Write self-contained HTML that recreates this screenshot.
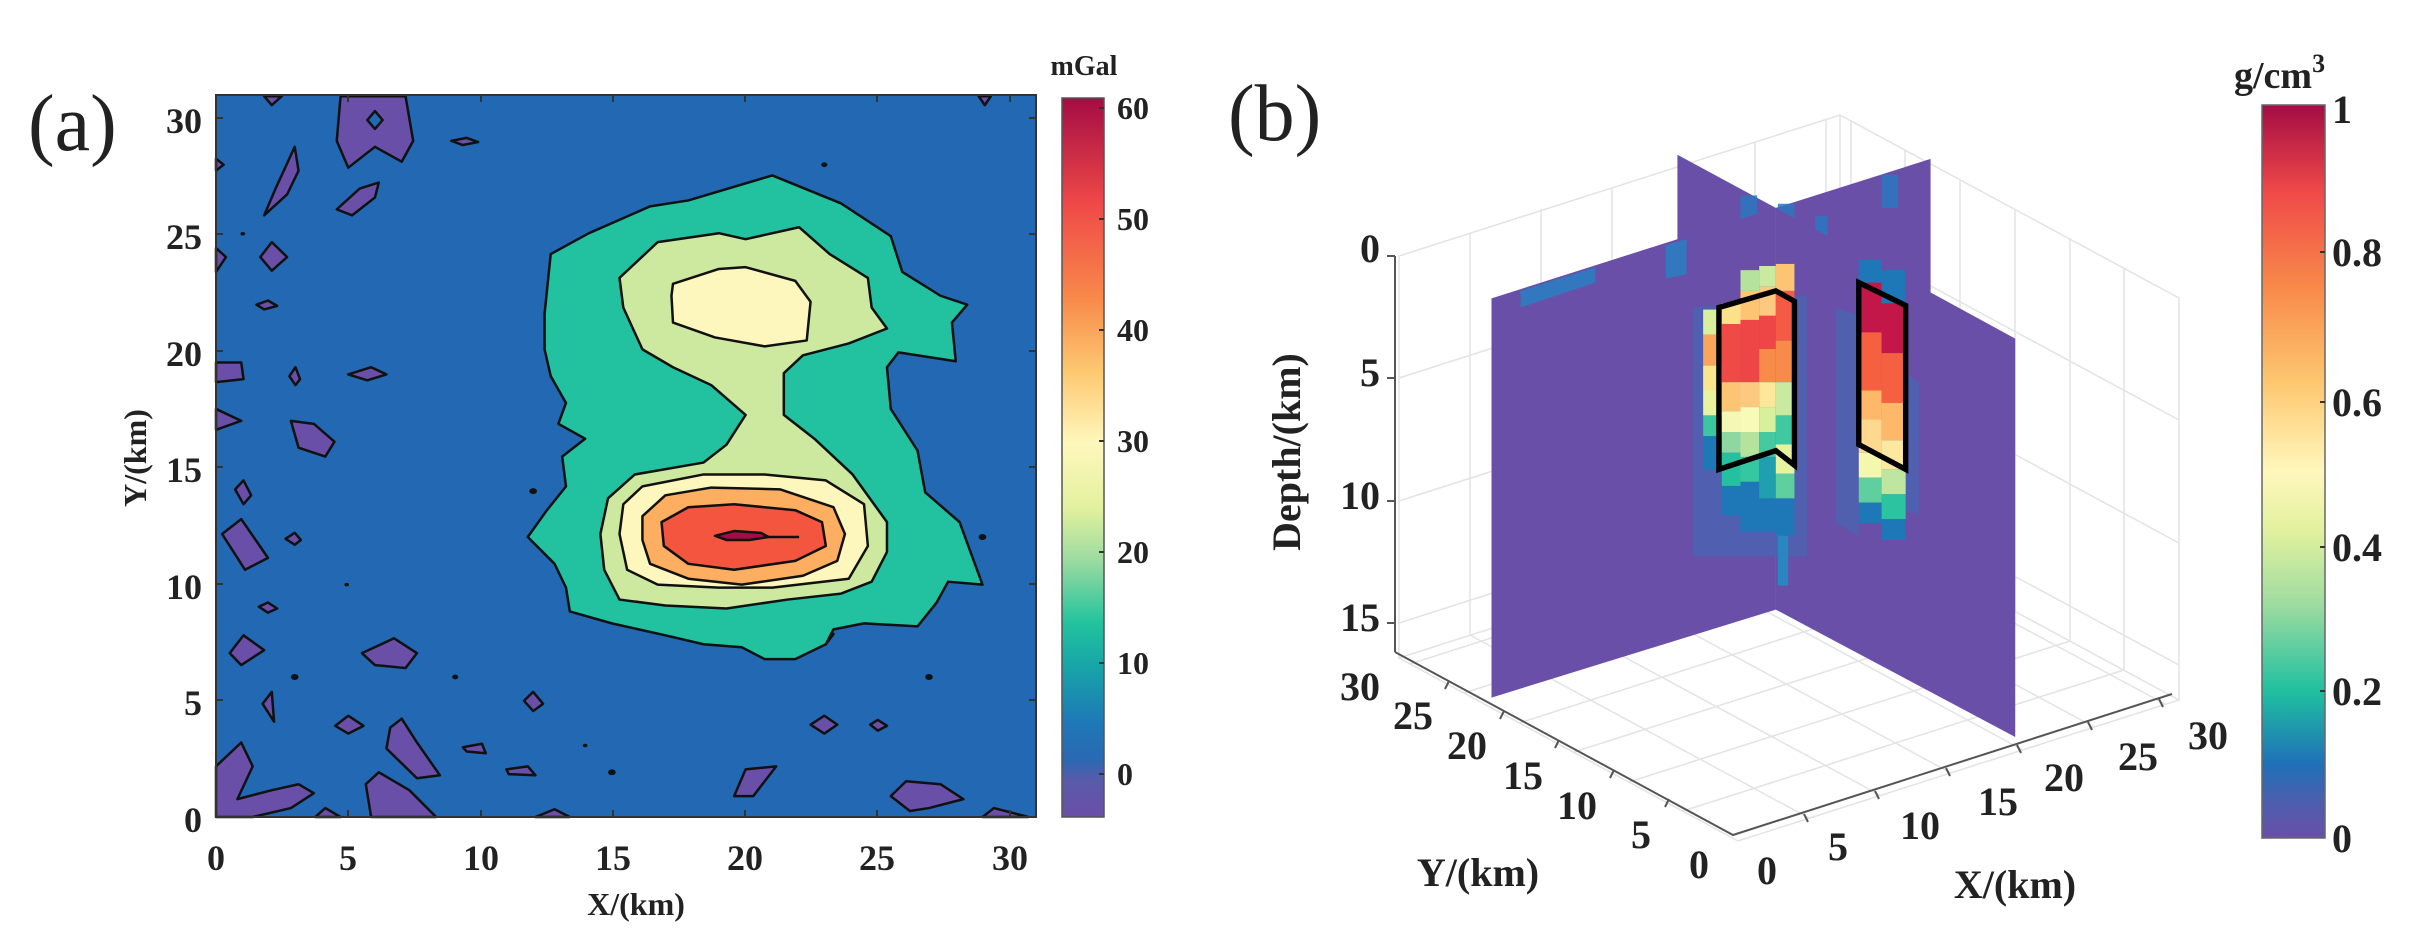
<!DOCTYPE html>
<html><head><meta charset="utf-8"><style>
html,body{margin:0;padding:0;background:#fff;}
svg{display:block;}
text{font-family:"Liberation Serif",serif;fill:#222;}
.tk{font-weight:bold;font-size:36px;}
.tb{font-weight:bold;font-size:40px;}
</style></head><body>
<svg width="2409" height="931" viewBox="0 0 2409 931" xmlns="http://www.w3.org/2000/svg">
<defs>
<linearGradient id="cba" x1="0" y1="1" x2="0" y2="0">
<stop offset="0" stop-color="#6a4fa8"/><stop offset="0.05" stop-color="#5a5aaa"/>
<stop offset="0.08" stop-color="#2a69b3"/><stop offset="0.13" stop-color="#1e78b8"/>
<stop offset="0.21" stop-color="#17a5a8"/><stop offset="0.27" stop-color="#22c39e"/>
<stop offset="0.36" stop-color="#9fdca0"/><stop offset="0.43" stop-color="#e2f19e"/>
<stop offset="0.52" stop-color="#fff7bc"/><stop offset="0.62" stop-color="#fdc870"/>
<stop offset="0.72" stop-color="#f88a4a"/><stop offset="0.85" stop-color="#f04a48"/>
<stop offset="1" stop-color="#a40c44"/></linearGradient>
<linearGradient id="cbb" x1="0" y1="1" x2="0" y2="0">
<stop offset="0" stop-color="#6a4fa8"/><stop offset="0.05" stop-color="#4c5fae"/>
<stop offset="0.1" stop-color="#1f70b8"/><stop offset="0.2" stop-color="#1fc0a0"/>
<stop offset="0.32" stop-color="#9fdca0"/><stop offset="0.42" stop-color="#e2f19e"/>
<stop offset="0.5" stop-color="#fff7bc"/><stop offset="0.62" stop-color="#fdc870"/>
<stop offset="0.75" stop-color="#f88a4a"/><stop offset="0.88" stop-color="#f04a48"/>
<stop offset="1" stop-color="#a40c44"/></linearGradient>
</defs>

<!-- ===== Panel (a) ===== -->
<text x="28" y="150" style="font-size:80px">(a)</text>
<rect x="216" y="95" width="820" height="722" fill="#2268b2"/>
<g transform="translate(0.5,-2.1) scale(0.7642,0.5957)" stroke="#111" stroke-width="2.5" stroke-linejoin="round">
<g fill="#6a4fa8" stroke="#111">
<path vector-effect="non-scaling-stroke" d="M445,165 L530,165 540,240 525,275 490,250 455,285 440,240Z"/>
<path vector-effect="non-scaling-stroke" fill="#2268b2" d="M480,205 490,190 500,205 490,220Z"/>
<path vector-effect="non-scaling-stroke" d="M345,365 360,320 385,250 390,290 375,330Z"/>
<path vector-effect="non-scaling-stroke" d="M440,355 470,320 495,310 490,335 460,365Z"/>
<path vector-effect="non-scaling-stroke" d="M340,435 355,410 375,435 355,458Z"/>
<path vector-effect="non-scaling-stroke" d="M335,515 350,508 362,517 345,523Z"/>
<path vector-effect="non-scaling-stroke" d="M282,612 315,612 318,640 282,645Z"/>
<path vector-effect="non-scaling-stroke" d="M455,632 485,620 505,632 480,642Z"/>
<path vector-effect="non-scaling-stroke" d="M378,635 386,620 392,640 386,650Z"/>
<path vector-effect="non-scaling-stroke" d="M282,690 315,710 282,725Z"/>
<path vector-effect="non-scaling-stroke" d="M380,710 410,715 437,745 425,770 390,755Z"/>
<path vector-effect="non-scaling-stroke" d="M307,825 318,810 328,835 318,850Z"/>
<path vector-effect="non-scaling-stroke" d="M290,900 315,875 350,940 320,960Z"/>
<path vector-effect="non-scaling-stroke" d="M373,908 385,898 393,910 385,918Z"/>
<path vector-effect="non-scaling-stroke" d="M338,1022 350,1015 362,1025 350,1032Z"/>
<path vector-effect="non-scaling-stroke" d="M300,1100 318,1070 345,1095 315,1120Z"/>
<path vector-effect="non-scaling-stroke" d="M473,1100 515,1075 545,1100 530,1125 490,1120Z"/>
<path vector-effect="non-scaling-stroke" d="M685,1180 697,1165 710,1185 697,1197Z"/>
<path vector-effect="non-scaling-stroke" d="M343,1185 355,1165 358,1215Z"/>
<path vector-effect="non-scaling-stroke" d="M438,1222 455,1205 475,1222 455,1235Z"/>
<path vector-effect="non-scaling-stroke" d="M510,1225 525,1210 545,1250 575,1305 545,1310 505,1260Z"/>
<path vector-effect="non-scaling-stroke" d="M605,1258 630,1252 635,1268 610,1265Z"/>
<path vector-effect="non-scaling-stroke" d="M662,1295 690,1290 700,1305 665,1303Z"/>
<path vector-effect="non-scaling-stroke" d="M1060,1220 1078,1205 1095,1220 1078,1235Z"/>
<path vector-effect="non-scaling-stroke" d="M1138,1220 1148,1212 1160,1222 1148,1230Z"/>
<path vector-effect="non-scaling-stroke" d="M282,1290 315,1250 330,1290 310,1345 355,1330 390,1320 410,1335 380,1360 330,1375 282,1375Z"/>
<path vector-effect="non-scaling-stroke" d="M478,1320 495,1300 535,1330 570,1375 485,1375Z"/>
<path vector-effect="non-scaling-stroke" d="M412,1375 425,1360 445,1375Z"/>
<path vector-effect="non-scaling-stroke" d="M960,1340 975,1295 1015,1290 985,1340Z"/>
<path vector-effect="non-scaling-stroke" d="M1165,1340 1185,1315 1230,1320 1260,1345 1215,1360 1190,1365Z"/>
<path vector-effect="non-scaling-stroke" d="M1285,1375 1300,1360 1345,1375Z"/>
<path vector-effect="non-scaling-stroke" d="M282,270 292,280 282,290Z"/>
<path vector-effect="non-scaling-stroke" d="M282,420 295,435 282,460Z"/>
<path vector-effect="non-scaling-stroke" d="M1070,1068 1080,1055 1090,1068 1080,1085Z"/>
<path vector-effect="non-scaling-stroke" d="M700,1375 725,1362 745,1375Z"/>
<path vector-effect="non-scaling-stroke" d="M345,165 368,165 355,180Z"/>
<path vector-effect="non-scaling-stroke" d="M1280,165 1296,165 1288,180Z"/>
<path vector-effect="non-scaling-stroke" d="M590,240 610,235 625,242 605,247Z"/>
</g>
<path vector-effect="non-scaling-stroke" fill="#22c1a0" d="M1010,298 1100,345 1165,400 1180,460 1230,500 1265,515 1245,545 1250,610 1175,595 1160,620 1165,690 1200,760 1210,830 1255,880 1285,985 1240,980 1225,1015 1200,1055 1130,1050 1090,1060 1080,1085 1040,1110 1000,1110 970,1090 920,1085 870,1070 800,1050 745,1030 740,990 725,950 690,905 715,860 740,820 735,770 765,740 730,715 740,680 720,635 712,590 712,530 720,430 770,395 850,350 900,340Z"/>
<path vector-effect="non-scaling-stroke" fill="#cde9a0" d="M810,470 860,410 940,395 975,405 1045,385 1085,430 1135,470 1140,520 1160,555 1110,580 1050,600 1025,630 1025,700 1065,740 1115,800 1160,880 1160,930 1140,980 1100,1000 1030,1010 950,1025 870,1020 810,1010 790,960 785,900 795,840 830,800 920,780 950,750 975,700 930,650 880,620 840,590 815,520Z"/>
<path vector-effect="non-scaling-stroke" fill="#fdf6bd" d="M880,480 940,455 975,452 1040,475 1060,510 1055,575 1000,585 935,570 880,545 878,500Z"/>
<path vector-effect="non-scaling-stroke" fill="#fdf6bd" d="M815,850 840,820 920,800 1000,800 1080,810 1130,850 1135,920 1110,975 1010,990 940,990 860,985 820,960 810,900Z"/>
<path vector-effect="non-scaling-stroke" fill="#fdae61" d="M840,870 870,835 930,822 1020,825 1090,855 1105,900 1095,945 1050,970 970,985 900,975 850,950 840,910Z"/>
<path vector-effect="non-scaling-stroke" fill="#f4553f" d="M865,880 900,855 960,850 1040,860 1075,880 1080,920 1040,945 960,960 900,950 868,920Z"/>
<path vector-effect="non-scaling-stroke" fill="#a40c44" d="M935,903 960,895 995,898 1005,905 980,910 950,910Z"/>
<path vector-effect="non-scaling-stroke" fill="none" d="M1005,905 L1045,905"/>
<g fill="#111" stroke="none">
<circle cx="697" cy="828" r="5"/><circle cx="1285" cy="905" r="5"/><circle cx="1215" cy="1140" r="5"/>
<circle cx="385" cy="1140" r="5"/><circle cx="595" cy="1140" r="4"/><circle cx="800" cy="1300" r="5"/>
<circle cx="453" cy="985" r="3"/><circle cx="1078" cy="280" r="4"/><circle cx="317" cy="396" r="3"/><circle cx="765" cy="1255" r="3"/>
</g>
</g>
<rect x="216" y="95" width="820" height="722" fill="none" stroke="#333" stroke-width="2"/>
<g stroke="#333" stroke-width="2">
<path d="M348,817v-7M481,817v-7M613,817v-7M745,817v-7M877,817v-7M1010,817v-7M348,95v7M481,95v7M613,95v7M745,95v7M877,95v7M1010,95v7"/>
<path d="M216,700h7M216,584h7M216,467h7M216,351h7M216,234h7M216,118h7M1036,700h-7M1036,584h-7M1036,467h-7M1036,351h-7M1036,234h-7M1036,118h-7"/>
</g>
<g class="tk" text-anchor="middle">
<text x="216" y="870">0</text><text x="348" y="870">5</text><text x="481" y="870">10</text>
<text x="613" y="870">15</text><text x="745" y="870">20</text><text x="877" y="870">25</text><text x="1010" y="870">30</text>
</g>
<g class="tk" text-anchor="end">
<text x="202" y="832">0</text><text x="202" y="715">5</text><text x="202" y="599">10</text>
<text x="202" y="482">15</text><text x="202" y="366">20</text><text x="202" y="249">25</text><text x="202" y="133">30</text>
</g>
<text x="636" y="915" text-anchor="middle" style="font-weight:bold;font-size:32px">X/(km)</text>
<text transform="translate(146,458) rotate(-90)" text-anchor="middle" style="font-weight:bold;font-size:32px">Y/(km)</text>
<rect x="1062" y="98" width="42" height="719" fill="url(#cba)" stroke="#555" stroke-width="1.5"/>
<g stroke="#333" stroke-width="2"><path d="M1104,108h-5M1104,219h-5M1104,330h-5M1104,441h-5M1104,552h-5M1104,663h-5M1104,774h-5"/></g>
<g style="font-weight:bold;font-size:32px">
<text x="1117" y="119">60</text><text x="1117" y="230">50</text><text x="1117" y="341">40</text><text x="1117" y="452">30</text>
<text x="1117" y="563">20</text><text x="1117" y="674">10</text><text x="1117" y="785">0</text>
</g>
<text x="1084" y="75" text-anchor="middle" style="font-weight:bold;font-size:28px">mGal</text>

<!-- ===== Panel (b) ===== -->
<text x="1228" y="140" style="font-size:80px">(b)</text>
<g stroke="#e3e3e3" stroke-width="1.5" fill="none">
<path d="M1399,256L1840,115L2179,298L2179,700L1738,841L1399,658Z M1840,115V517 M1399,658L1840,517L2179,700"/>
<path d="M1470,233V635M1541,209V612M1612,188V590M1684,165V567M1755,142V544M1826,119V522"/>
<path d="M1399,378L1840,237M1399,501L1840,360M1399,623L1840,482"/>
<path d="M2124,268V670M2070,239V641M2015,209V611M1960,180V582M1905,150V552M1851,121V523"/>
<path d="M1840,237L2179,420M1840,360L2179,543M1840,482L2179,665"/>
<path d="M1809,818L1470,635M1880,795L1541,612M1951,773L1612,590M2023,750L1684,567M2094,727L1755,544M2165,704L1826,522"/>
<path d="M1683,811L2124,670M1629,782L2070,641M1574,752L2015,611M1519,723L1960,582M1464,693L1905,552M1410,664L1851,523"/>
</g>
<g stroke="#555" stroke-width="2" fill="none">
<path d="M1395,256V652 M1395,256h-8M1395,378h-8M1395,501h-8M1395,623h-8"/>
<path d="M1395,652L1733,835L2172,694"/>
<path d="M1449,681l-4,8M1504,711l-4,8M1559,740l-4,8M1614,770l-4,8M1669,799l-4,8"/>
<path d="M1804,814l4,8M1875,791l4,8M1946,768l4,8M2017,745l4,8M2088,722l4,8M2159,699l4,8"/>
</g>
<g transform="translate(1450,100) scale(0.415)">
<path d="M548,132 785,260 785,1228 548,1100Z" fill="#6a4fa8"/>
<path d="M785,260 1158,142 1158,1100 785,1228Z" fill="#6a4fa8"/>
<g fill="#2a78c0" opacity="0.85">
<rect x="700" y="230" width="40" height="70"/><rect x="790" y="250" width="40" height="80"/>
<rect x="1040" y="180" width="40" height="80"/><rect x="880" y="280" width="30" height="100"/>
</g>
<path d="M100,478 785,260 785,1228 100,1440Z" fill="#6a4fa8"/>
<path d="M785,260 1362,575 1362,1535 785,1228Z" fill="#6a4fa8"/>
<g fill="#2c7cc0" opacity="0.9">
<path d="M170,460 350,403 350,440 170,500Z"/>
<path d="M520,350 570,335 570,420 520,430Z"/>
</g>
<g fill="#4a63b0" opacity="0.8">
<path d="M585,500 860,470 860,1100 585,1100Z"/>
<path d="M930,500 985,520 985,1050 930,1020Z"/>
<path d="M1098,660 1130,680 1130,1000 1098,990Z"/>
</g>
<g>
<rect x="610" y="505" width="45" height="60" fill="#d8ef9c"/><rect x="610" y="565" width="45" height="75" fill="#fba55c"/>
<rect x="610" y="640" width="45" height="60" fill="#f8e58e"/><rect x="610" y="700" width="45" height="60" fill="#e8f3a0"/>
<rect x="610" y="760" width="45" height="50" fill="#39c6a0"/><rect x="610" y="810" width="45" height="80" fill="#1e78b8"/>
<rect x="655" y="490" width="45" height="50" fill="#fde08a"/><rect x="655" y="540" width="45" height="140" fill="#ef4a45"/>
<rect x="655" y="680" width="45" height="70" fill="#fdc474"/><rect x="655" y="750" width="45" height="50" fill="#f5f7b5"/>
<rect x="655" y="800" width="45" height="50" fill="#8ed7a0"/><rect x="655" y="850" width="45" height="80" fill="#25c0a0"/>
<rect x="655" y="930" width="45" height="70" fill="#1e78b8"/>
<rect x="700" y="410" width="45" height="50" fill="#b5e39e"/><rect x="700" y="460" width="45" height="70" fill="#fdc474"/>
<rect x="700" y="530" width="45" height="150" fill="#ee4646"/><rect x="700" y="680" width="45" height="60" fill="#fdc880"/>
<rect x="700" y="740" width="45" height="60" fill="#f8fab8"/><rect x="700" y="800" width="45" height="60" fill="#b5e39e"/>
<rect x="700" y="860" width="45" height="60" fill="#35c7a0"/><rect x="700" y="920" width="45" height="120" fill="#1e78b8"/>
<rect x="745" y="400" width="40" height="50" fill="#c9eaa0"/><rect x="745" y="450" width="40" height="70" fill="#fdc880"/>
<rect x="745" y="520" width="40" height="80" fill="#ee4646"/><rect x="745" y="600" width="40" height="80" fill="#f88a4a"/>
<rect x="745" y="680" width="40" height="60" fill="#fde79a"/><rect x="745" y="740" width="40" height="60" fill="#d8ef9c"/>
<rect x="745" y="800" width="40" height="60" fill="#45c9a0"/><rect x="745" y="860" width="40" height="100" fill="#1f9fb0"/>
<rect x="745" y="960" width="40" height="80" fill="#1e78b8"/>
<rect x="785" y="395" width="45" height="65" fill="#fdc474"/><rect x="785" y="460" width="45" height="120" fill="#f45a44"/>
<rect x="785" y="580" width="45" height="100" fill="#f88a4a"/><rect x="785" y="680" width="45" height="80" fill="#c9eaa0"/>
<rect x="785" y="760" width="45" height="70" fill="#40c8a0"/><rect x="785" y="830" width="45" height="70" fill="#e8f3a0"/>
<rect x="785" y="900" width="45" height="60" fill="#60cfa0"/><rect x="785" y="960" width="45" height="90" fill="#1e78b8"/>
<rect x="790" y="1050" width="25" height="120" fill="#2a86c0"/>
</g>
<g>
<rect x="985" y="385" width="55" height="55" fill="#1e78b8"/><rect x="985" y="440" width="55" height="120" fill="#c3174a"/>
<rect x="985" y="560" width="55" height="140" fill="#f56040"/><rect x="985" y="700" width="55" height="70" fill="#fdb86a"/>
<rect x="985" y="770" width="55" height="80" fill="#fdd88e"/><rect x="985" y="850" width="55" height="60" fill="#f4f7ae"/>
<rect x="985" y="910" width="55" height="60" fill="#5fcfa0"/><rect x="985" y="970" width="55" height="50" fill="#1e78b8"/>
<rect x="1040" y="410" width="58" height="80" fill="#1e78b8"/><rect x="1040" y="490" width="58" height="120" fill="#c3174a"/>
<rect x="1040" y="610" width="58" height="120" fill="#f56040"/><rect x="1040" y="730" width="58" height="90" fill="#fdb86a"/>
<rect x="1040" y="820" width="58" height="70" fill="#fde8a0"/><rect x="1040" y="890" width="58" height="60" fill="#bfe6a0"/>
<rect x="1040" y="950" width="58" height="60" fill="#2cc3a0"/><rect x="1040" y="1010" width="58" height="50" fill="#1e78b8"/>
</g>
<g fill="none" stroke="#000" stroke-width="13" stroke-linejoin="miter">
<path d="M648,500 785,460 830,485 830,880 785,845 648,890Z"/>
<path d="M985,440 1098,495 1098,890 985,830Z"/>
</g>
</g>
<g class="tb" text-anchor="end">
<text x="1380" y="262">0</text><text x="1380" y="386">5</text><text x="1380" y="509">10</text><text x="1380" y="631">15</text>
</g>
<text transform="translate(1300,452) rotate(-90)" text-anchor="middle" style="font-weight:bold;font-size:40px">Depth/(km)</text>
<g class="tb" text-anchor="middle">
<text x="1360" y="700">30</text><text x="1413" y="729">25</text><text x="1467" y="759">20</text><text x="1523" y="789">15</text>
<text x="1577" y="819">10</text><text x="1641" y="848">5</text><text x="1699" y="878">0</text>
<text x="1767" y="884">0</text><text x="1838" y="860">5</text><text x="1920" y="839">10</text><text x="1998" y="815">15</text>
<text x="2064" y="791">20</text><text x="2138" y="770">25</text><text x="2208" y="749">30</text>
</g>
<text x="1478" y="886" text-anchor="middle" style="font-weight:bold;font-size:40px">Y/(km)</text>
<text x="2015" y="898" text-anchor="middle" style="font-weight:bold;font-size:40px">X/(km)</text>
<rect x="2262" y="105" width="63" height="733" fill="url(#cbb)" stroke="#666" stroke-width="1.5"/>
<g stroke="#333" stroke-width="2"><path d="M2325,252h-5M2325,402h-5M2325,547h-5M2325,691h-5"/></g>
<g style="font-weight:bold;font-size:40px">
<text x="2332" y="123">1</text><text x="2332" y="266">0.8</text><text x="2332" y="416">0.6</text>
<text x="2332" y="561">0.4</text><text x="2332" y="705">0.2</text><text x="2332" y="852">0</text>
</g>
<text x="2234" y="88" style="font-weight:bold;font-size:38px">g/cm<tspan dy="-16" style="font-size:26px">3</tspan></text>
</svg>
</body></html>
